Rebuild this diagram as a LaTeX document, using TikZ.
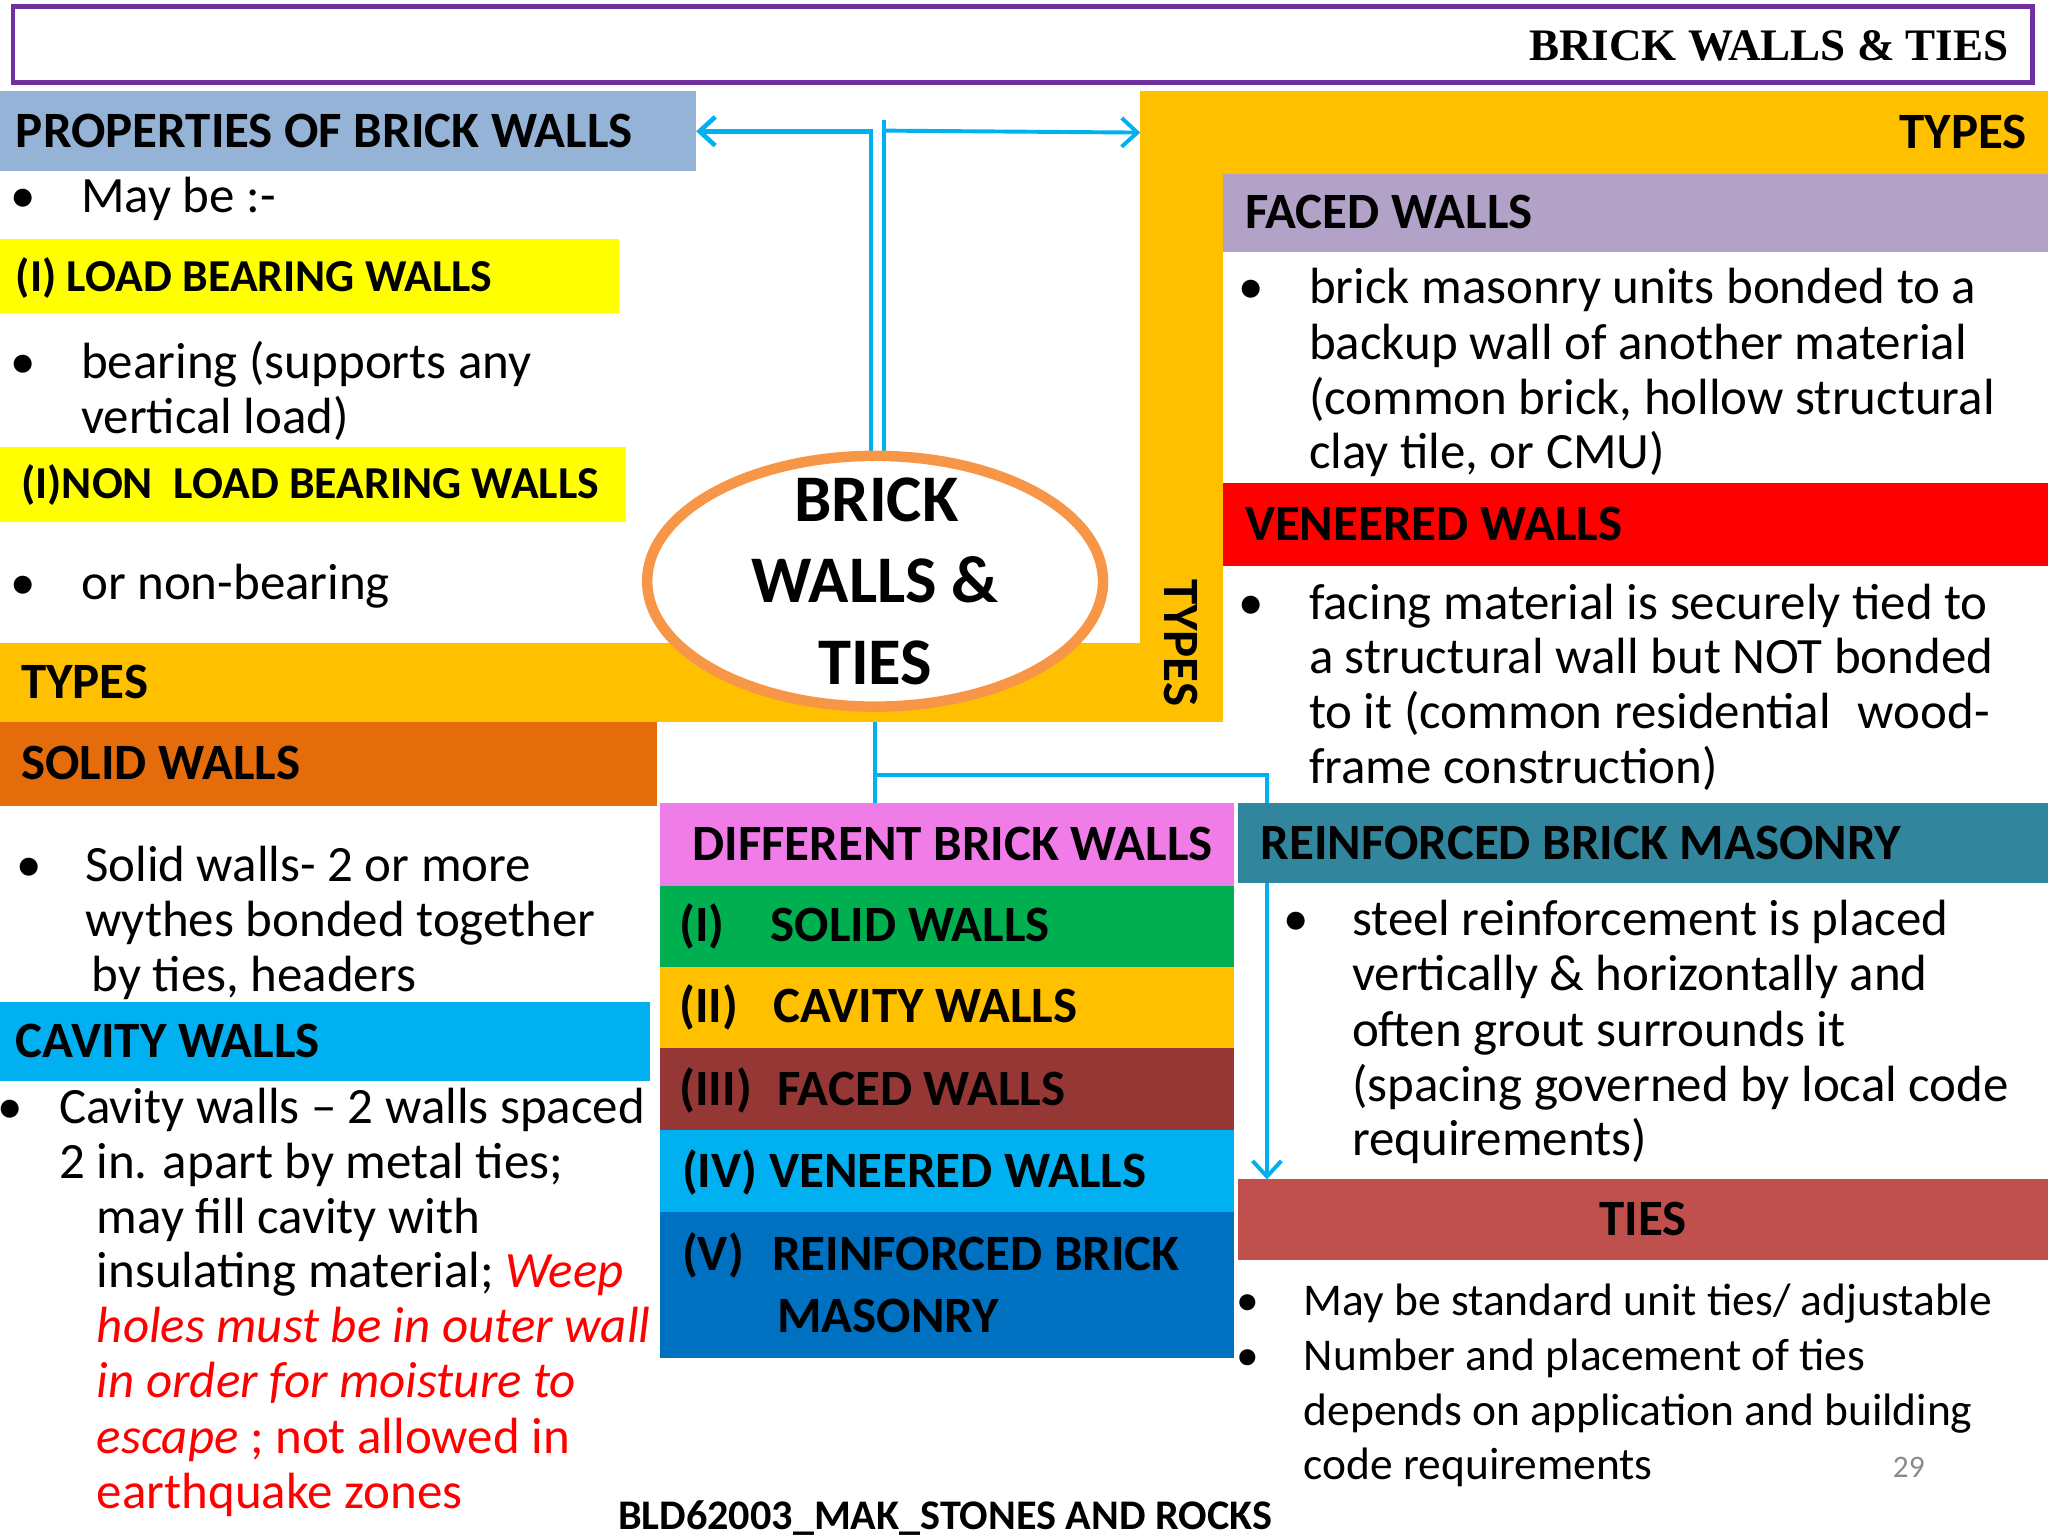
\documentclass[tikz,border=0pt]{standalone}
\usepackage{fontspec}
\setmainfont{Carlito}
\newfontfamily\serifbold{Liberation Serif}
\usetikzlibrary{shapes.geometric,arrows.meta,calc}

\definecolor{purpleC}{HTML}{7030A0}
\definecolor{propC}{HTML}{95B3D7}
\definecolor{yelC}{HTML}{FFFF00}
\definecolor{goldC}{HTML}{FFC000}
\definecolor{orangeC}{HTML}{E46C0A}
\definecolor{cyanC}{HTML}{00B0F0}
\definecolor{pinkC}{HTML}{F07CE8}
\definecolor{greenC}{HTML}{00B050}
\definecolor{brownC}{HTML}{953735}
\definecolor{blueC}{HTML}{0070C0}
\definecolor{lilacC}{HTML}{B2A2C7}
\definecolor{redC}{HTML}{FF0000}
\definecolor{tealC}{HTML}{31859C}
\definecolor{tiesC}{HTML}{C0504D}
\definecolor{ellC}{HTML}{F79646}
\definecolor{grayC}{HTML}{8C8C8C}

\pgfdeclarelayer{bgwhite}
\pgfdeclarelayer{conns}
\pgfsetlayers{bgwhite,conns,main}

\tikzset{
  box/.style={rectangle, inner sep=0pt, outer sep=0pt, anchor=north west},
  hd/.style={anchor=base west, inner sep=0pt, font=\fontsize{39}{42}\selectfont\bfseries},
  hds/.style={anchor=base west, inner sep=0pt, font=\fontsize{35}{40}\selectfont\bfseries},
  body/.style={anchor=base west, inner sep=0pt, font=\fontsize{39}{42}\selectfont},
  bodys/.style={anchor=base west, inner sep=0pt, font=\fontsize{34.8}{40}\selectfont},
  bul/.style={anchor=base, inner sep=0pt, font=\fontsize{39}{42}\selectfont},
  buls/.style={anchor=base, inner sep=0pt, font=\fontsize{34.8}{40}\selectfont},
  conn/.style={draw=cyanC, line width=3.5pt},
  conn2/.style={draw=cyanC, line width=3pt},
  tipped/.style={-{Straight Barb[length=12pt,width=22pt]}},
}

\begin{document}
\begin{tikzpicture}[x=1pt,y=-1pt]
\begin{pgfonlayer}{bgwhite}
\fill[white] (0,0) rectangle (1568,1176);
\end{pgfonlayer}
\useasboundingbox (0,0) rectangle (1568,1176);

% ---------- title
\node[box, draw=purpleC, line width=3.5pt, minimum width=1546pt, minimum height=58pt] (titlebox) at (10,5) {};
\node[anchor=base east, inner sep=0pt, font=\serifbold\fontsize{34.5}{40}\selectfont\bfseries] (title) at (1538,46) {BRICK WALLS \& TIES};

% ---------- TYPES (L shape)
\node[box, fill=goldC, minimum width=936pt, minimum height=61pt] (typesL) at (0,492) {};
\node[box, fill=goldC, minimum width=63pt, minimum height=483pt] (typesV) at (873,70) {};
\node[box, fill=goldC, minimum width=695pt, minimum height=63pt] (typesTop) at (873,70) {};
\node[hd] (typesLT) at (16,535) {TYPES};
\node[hd, anchor=base east] (typesTopT) at (1552,114) {TYPES};
\node[inner sep=0pt, rotate=-90, font=\fontsize{39}{42}\selectfont\bfseries] (typesVT) at (904,492) {TYPES};

% ---------- left column
\node[box, fill=propC, minimum width=533pt, minimum height=61pt] (prop) at (0,70) {};
\node[hd] (propT) at (12,113) {PROPERTIES OF BRICK WALLS};
\node[bul] (bu1) at (18,163) {•};
\node[body] (l1) at (62,163) {May be :-};

\node[box, fill=yelC, minimum width=474pt, minimum height=57pt] (load) at (0,183) {};
\node[hds] (loadT) at (12,223) {(I) LOAD BEARING WALLS};
\node[bul] (bu2) at (18,290) {•};
\node[body] (l2) at (62,290) {bearing (supports any};
\node[body] (l3) at (62,332) {vertical load)};

\node[box, fill=yelC, minimum width=479pt, minimum height=58pt] (nonl) at (0,342) {};
\node[hds] (nonT) at (16,382) {(I)NON\ \ LOAD BEARING WALLS};
\node[bul] (bu3) at (18,459) {•};
\node[body] (l4) at (62,459) {or non-bearing};

\node[box, fill=orangeC, minimum width=503pt, minimum height=64pt] (solid) at (0,553) {};
\node[hd] (solidT) at (16,597) {SOLID WALLS};
\node[bul] (bu4) at (22,675) {•};
\node[body] (l5) at (65,675) {Solid walls- 2 or more};
\node[body] (l6) at (65,717) {wythes bonded together};
\node[body] (l7) at (70,759) {by ties, headers};

\node[box, fill=cyanC, minimum width=498pt, minimum height=61pt] (cav) at (0,767) {};
\node[hd] (cavT) at (12,810) {CAVITY WALLS};
\node[bul] (bu5) at (8,860) {•};
\node[body] (c1t) at (45,860) {Cavity walls – 2 walls spaced};
\node[body] (c2t) at (45,902) {2 in. apart by metal ties;};
\node[body] (c3t) at (74,944) {may fill cavity with};
\node[body] (c4t) at (74,986) {insulating material; \textcolor{redC}{\itshape Weep}};
\node[body, text=redC] (c5t) at (74,1028) {\itshape holes must be in outer wall};
\node[body, text=redC] (c6t) at (74,1070) {\itshape in order for moisture to};
\node[body, text=redC] (c7t) at (74,1113) {{\itshape escape} ; not allowed in};
\node[body, text=redC] (c8t) at (74,1155) {earthquake zones};

% ---------- central ellipse
\node[ellipse, draw=ellC, line width=8pt, fill=white, minimum width=349pt, minimum height=192pt, inner sep=0pt] (hub) at (670,445) {};
\node[anchor=base, inner sep=0pt, font=\fontsize{51}{60}\selectfont\bfseries] (hubA) at (671,399) {BRICK};
\node[anchor=base, inner sep=0pt, font=\fontsize{51}{60}\selectfont\bfseries] (hubB) at (670,461) {WALLS \&};
\node[anchor=base, inner sep=0pt, font=\fontsize{51}{60}\selectfont\bfseries] (hubC) at (670,524) {TIES};

% ---------- middle column
\node[box, fill=pinkC, minimum width=440pt, minimum height=63pt] (diff) at (505,615) {};
\node[hd] (diffT) at (530,659) {DIFFERENT BRICK WALLS};
\node[box, fill=greenC, minimum width=440pt, minimum height=62pt] (m1) at (505,678) {};
\node[hd] (m1a) at (520,721) {(I)};
\node[hd] (m1b) at (590,721) {SOLID WALLS};
\node[box, fill=goldC, minimum width=440pt, minimum height=62pt] (m2) at (505,740) {};
\node[hd] (m2a) at (520,783) {(II)};
\node[hd] (m2b) at (592,783) {CAVITY WALLS};
\node[box, fill=brownC, minimum width=440pt, minimum height=63pt] (m3) at (505,802) {};
\node[hd] (m3a) at (520,846) {(III)};
\node[hd] (m3b) at (595,846) {FACED WALLS};
\node[box, fill=cyanC, minimum width=440pt, minimum height=63pt] (m4) at (505,865) {};
\node[hd] (m4a) at (522,909) {(IV) VENEERED WALLS};
\node[box, fill=blueC, minimum width=440pt, minimum height=112pt] (m5) at (505,928) {};
\node[hd] (m5a) at (522,973) {(V)};
\node[hd] (m5b) at (591,973) {REINFORCED BRICK};
\node[hd] (m5c) at (595,1020) {MASONRY};

% ---------- right column
\node[box, fill=lilacC, minimum width=632pt, minimum height=60pt] (faced) at (936,133) {};
\node[hd] (facedT) at (953,175) {FACED WALLS};
\node[bul] (bu6) at (958,232) {•};
\node[body] (r1) at (1002,232) {brick masonry units bonded to a};
\node[body] (r2) at (1002,275) {backup wall of another material};
\node[body] (r3) at (1002,317) {(common brick, hollow structural};
\node[body] (r4) at (1002,359) {clay tile, or CMU)};

\node[box, fill=redC, minimum width=632pt, minimum height=63pt] (ven) at (936,370) {};
\node[hd] (venT) at (953,414) {VENEERED WALLS};
\node[bul] (bu7) at (958,474) {•};
\node[body] (r5) at (1002,474) {facing material is securely tied to};
\node[body] (r6) at (1002,516) {a structural wall but NOT bonded};
\node[body] (r7) at (1002,558) {to it (common residential\hspace{0.3em} wood-};
\node[body] (r8) at (1002,600) {frame construction)};

\node[box, fill=tealC, minimum width=620pt, minimum height=61pt] (reinf) at (948,615) {};
\node[hd] (reinfT) at (965,658) {REINFORCED BRICK MASONRY};
\node[bul] (bu8) at (992,716) {•};
\node[body] (r9) at (1035,716) {steel reinforcement is placed};
\node[body] (r10) at (1035,758) {vertically \& horizontally and};
\node[body] (r11) at (1035,801) {often grout surrounds it};
\node[body] (r12) at (1035,843) {(spacing governed by local code};
\node[body] (r13) at (1035,885) {requirements)};

\node[box, fill=tiesC, minimum width=620pt, minimum height=62pt] (ties) at (948,903) {};
\node[hd, anchor=base] (tiesT) at (1258,946) {TIES};
\node[buls] (bu9) at (955,1007) {•};
\node[bodys] (r14) at (998,1007) {May be standard unit ties/ adjustable};
\node[buls] (bu10) at (955,1049) {•};
\node[bodys] (r15) at (998,1049) {Number and placement of ties};
\node[bodys] (r16) at (998,1091) {depends on application and building};
\node[bodys] (r17) at (998,1133) {code requirements};
\node[anchor=base west, inner sep=0pt, text=grayC, font=\fontsize{24}{28}\selectfont] (pgnum) at (1449,1131) {29};

% ---------- footer
\node[anchor=base west, inner sep=0pt, font=\fontsize{32.3}{34}\selectfont\bfseries] (footer) at (473,1171) {BLD62003\_MAK\_STONES AND ROCKS};

% ---------- connectors
\coordinate (c1) at (667,0);
\coordinate (top2) at (677,92);
\coordinate (mid2) at (677,100);
\coordinate (j3) at (670,593);
\coordinate (tarr) at ($(ties.north west)+(22,0)$);
\begin{pgfonlayer}{conns}
\draw[conn, tipped] (hub.center -| c1) |- (prop.east);
\draw[conn2] (hub.center -| top2) -- (top2);
\draw[conn2, tipped] (mid2) -- (typesTop.west);
\draw[conn2] (hub.center) -- (hub.center |- diff.north);
\draw[conn2, tipped] (j3) -| (tarr);
\end{pgfonlayer}
\end{tikzpicture}
\end{document}
